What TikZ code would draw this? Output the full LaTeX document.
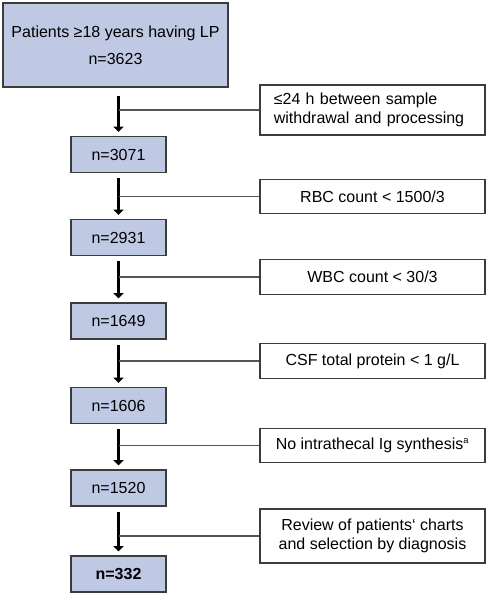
\documentclass[tikz,border=0pt]{standalone}
\usepackage{fontspec}
\setmainfont{Liberation Sans}
\usepackage{tikz}
\usetikzlibrary{positioning,arrows.meta}
\definecolor{cohortblue}{RGB}{192, 201, 228}
\definecolor{edgegray}{RGB}{60, 60, 60}
\definecolor{linkgray}{RGB}{85, 85, 85}

\begin{document}
\begin{tikzpicture}[
    x=0.75pt, y=-0.75pt,
    font=\fontsize{12}{14}\selectfont,
    startbox/.style={
        rectangle, draw=edgegray, line width=0.8pt, fill=cohortblue,
        minimum width=168.75pt, minimum height=63pt, align=center,
        inner sep=0pt
    },
    countbox/.style={
        rectangle, draw=edgegray, line width=0.8pt, fill=cohortblue,
        minimum width=71.25pt, minimum height=27pt, inner sep=0pt
    },
    critbox/.style={
        rectangle, draw=edgegray, line width=0.8pt, fill=white,
        minimum width=168.75pt, minimum height=26pt, inner sep=0pt,
        align=center
    },
    flowarrow/.style={draw=black, line width=2.3pt,
        -{Triangle[length=4pt,width=7.5pt]}, shorten <=4pt, shorten >=3pt},
    critlink/.style={draw=linkgray, line width=1.3pt}
]
    \useasboundingbox (0,0) rectangle (487,595);

    % cohort boxes
    \node[startbox] (all) at (115.5,45) {Patients ≥18 years having LP\\[6pt] n=3623};
    \node[countbox] (n3071) at (118.5,154.5) {n=3071};
    \node[countbox] (n2931) at (118.5,237.5) {n=2931};
    \node[countbox] (n1649) at (118.5,321) {n=1649};
    \node[countbox] (n1606) at (118.5,405.5) {n=1606};
    \node[countbox] (n1520) at (118.5,488) {n=1520};
    \node[countbox] (n332) at (118.5,574) {\textbf{n=332}};

    % exclusion criteria
    \node[critbox, minimum height=37.5pt, text width=148pt, align=left] (timing) at (372.5,110)
        {≤24 h between sample\\withdrawal and processing};
    \node[critbox] (rbc) at (372.5,196.5) {RBC count < 1500/3};
    \node[critbox] (wbc) at (372.5,277) {WBC count < 30/3};
    \node[critbox] (csf) at (372.5,361) {CSF total protein < 1 g/L};
    \node[critbox] (igsyn) at (372.5,445.5) {No intrathecal Ig synthesis\textsuperscript{\scriptsize a}};
    \node[critbox, minimum height=40.5pt] (review) at (372.5,536)
        {Review of patients‘ charts\\and selection by diagnosis};

    % flow
    \draw[flowarrow, shorten <=6pt] (n3071.north |- all.south) -- (n3071.north);
    \draw[flowarrow] (n3071) -- (n2931);
    \draw[flowarrow] (n2931) -- (n1649);
    \draw[flowarrow] (n1649) -- (n1606);
    \draw[flowarrow] (n1606) -- (n1520);
    \draw[flowarrow] (n1520) -- (n332);

    \draw[critlink] (timing.west) -- (timing.west -| n3071.north);
    \draw[critlink] (rbc.west) -- (rbc.west -| n3071.north);
    \draw[critlink] (wbc.west) -- (wbc.west -| n2931.north);
    \draw[critlink] (csf.west) -- (csf.west -| n1649.north);
    \draw[critlink] (igsyn.west) -- (igsyn.west -| n1606.north);
    \draw[critlink] (review.west) -- (review.west -| n1520.north);
\end{tikzpicture}
\end{document}
